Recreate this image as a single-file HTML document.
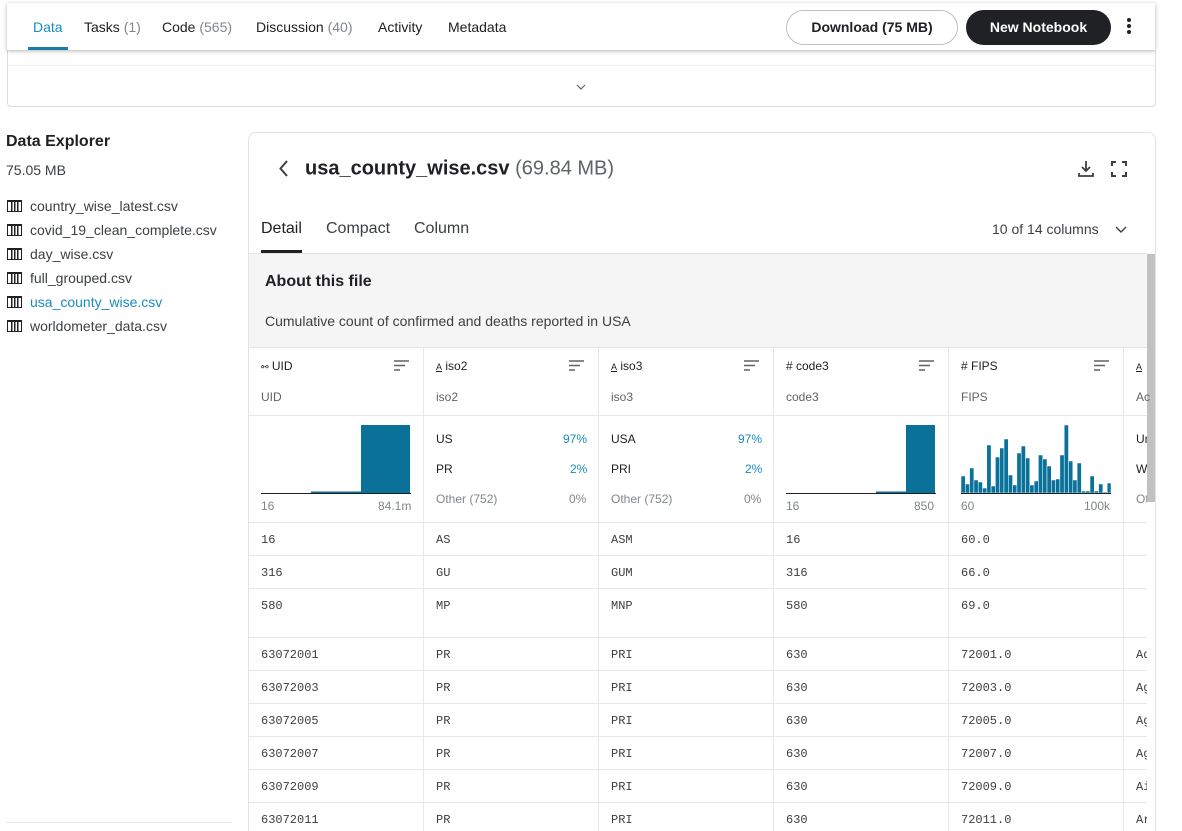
<!DOCTYPE html>
<html style="width:1182px;height:831px;overflow:hidden"><head><meta charset="utf-8"><style>
*{margin:0;padding:0;box-sizing:border-box}
body{width:1182px;height:831px;overflow:hidden;background:#fff;font-family:"Liberation Sans",sans-serif;color:#202124;position:relative}
.a{position:absolute;white-space:nowrap}
.c{transform:translateY(-50%)}
.g{color:#80868b}
.m{font-family:"Liberation Mono",monospace;font-size:12px;color:#3c4043}
.hl{position:absolute;height:1px;background:#e8e8e8}
.vl{position:absolute;width:1px;background:#e8e8e8}
.b{color:#1a8bbd}
.ic{display:inline-block;width:15px;height:12px;border:1.5px solid #202124;border-top-width:2px;vertical-align:-1px;margin-right:8px;background:linear-gradient(90deg,transparent 3px,#202124 3px,#202124 4.5px,transparent 4.5px,transparent 6px,#202124 6px,#202124 7.5px,transparent 7.5px,transparent 9px,#202124 9px,#202124 10.5px,transparent 10.5px)}
</style></head><body>
<!-- top bar -->
<div class="a" style="left:7px;top:3px;width:1148px;height:47px;background:#fff;box-shadow:0 1px 4px rgba(0,0,0,.3);z-index:2"></div>
<div class="a" style="left:7px;top:50px;width:1149px;height:57px;border:1px solid #dadce0;border-top:none;border-radius:0 0 4px 4px"></div>
<div class="hl" style="left:8px;top:65px;width:1147px;background:#eee"></div>
<svg class="a" style="left:576px;top:84px" width="10" height="6"><path d="M1 1l4 4 4-4" fill="none" stroke="#5f6368" stroke-width="1.2"/></svg>
<div style="position:absolute;z-index:3;left:0;top:0">
<div class="a c b" style="left:33px;top:27px;font-size:14px">Data</div>
<div class="a" style="left:28px;top:47px;width:40px;height:3px;background:#1a7bab"></div>
<div class="a c" style="left:84px;top:27px;font-size:14px">Tasks <span class="g">(1)</span></div>
<div class="a c" style="left:162px;top:27px;font-size:14px">Code <span class="g">(565)</span></div>
<div class="a c" style="left:256px;top:27px;font-size:14px">Discussion <span class="g">(40)</span></div>
<div class="a c" style="left:378px;top:27px;font-size:14px">Activity</div>
<div class="a c" style="left:448px;top:27px;font-size:14px">Metadata</div>
<div class="a" style="left:786px;top:10px;width:172px;height:35px;border:1px solid #bdc1c6;border-radius:18px;font-size:14px;font-weight:bold;text-align:center;line-height:33px">Download (75 MB)</div>
<div class="a" style="left:966px;top:10px;width:145px;height:35px;background:#202124;color:#fff;border-radius:18px;font-size:14px;font-weight:bold;text-align:center;line-height:35px">New Notebook</div>
<div class="a" style="left:1127px;top:18px;width:4px;height:4px;border-radius:2px;background:#202124;box-shadow:0 6px 0 #202124,0 12px 0 #202124"></div>
</div>
<!-- sidebar -->
<div class="a c" style="left:6px;top:142px;font-size:16px;font-weight:bold">Data Explorer</div>
<div class="a c" style="left:6px;top:170px;font-size:14px;color:#3c4043">75.05 MB</div>
<div class="a" style="left:7px;top:194px;font-size:14px;line-height:24px;color:#3c4043">
<div><span class="ic"></span>country_wise_latest.csv</div>
<div><span class="ic"></span>covid_19_clean_complete.csv</div>
<div><span class="ic"></span>day_wise.csv</div>
<div><span class="ic"></span>full_grouped.csv</div>
<div><span class="ic"></span><span class="b">usa_county_wise.csv</span></div>
<div><span class="ic"></span>worldometer_data.csv</div>
</div>
<div class="hl" style="left:6px;top:822px;width:226px"></div>
<!-- card -->
<div class="a" style="left:248px;top:132px;width:908px;height:699px;border:1px solid #e3e3e3;border-bottom:none;border-radius:8px 8px 0 0"></div>
<svg class="a" style="left:279px;top:160px" width="10" height="17"><path d="M8 1L1.5 8.5 8 16" fill="none" stroke="#3c4043" stroke-width="2"/></svg>
<div class="a c" style="left:305px;top:169px;font-size:20px"><b>usa_county_wise.csv</b> <span style="color:#5f6368">(69.84 MB)</span></div>
<svg class="a" style="left:1077px;top:160px" width="20" height="18"><path d="M9 1v10M5 7l4 4 4-4M2 13v3h14v-3" fill="none" stroke="#3c4043" stroke-width="1.8"/></svg>
<svg class="a" style="left:1111px;top:161px" width="16" height="16"><path d="M1 5V1h4M11 1h4v4M15 11v4h-4M5 15H1v-4" fill="none" stroke="#3c4043" stroke-width="2"/></svg>
<div class="a c" style="left:261px;top:229px;font-size:16px">Detail</div>
<div class="a c" style="left:326px;top:229px;font-size:16px;color:#3c4043">Compact</div>
<div class="a c" style="left:414px;top:229px;font-size:16px;color:#3c4043">Column</div>
<div class="a c" style="left:992px;top:229px;font-size:14px;color:#3c4043">10 of 14 columns</div>
<svg class="a" style="left:1115px;top:226px" width="12" height="7"><path d="M1 1l5 5 5-5" fill="none" stroke="#3c4043" stroke-width="1.4"/></svg>
<div class="a" style="left:261px;top:250px;width:41px;height:3px;background:#202124"></div>
<!-- about -->
<div class="a" style="left:249px;top:253px;width:898px;height:95px;background:#f5f5f5;border-top:1px solid #e3e3e3;border-bottom:1px solid #e3e3e3"></div>
<div class="a" style="left:1147px;top:254px;width:8px;height:248px;background:#c1c1c1"></div>
<div class="a c" style="left:265px;top:282px;font-size:16px;font-weight:bold">About this file</div>
<div class="a c" style="left:265px;top:321px;font-size:14px;color:#3c4043">Cumulative count of confirmed and deaths reported in USA</div>
<!-- table grid -->
<div class="vl" style="left:423px;top:348px;height:483px"></div>
<div class="vl" style="left:598px;top:348px;height:483px"></div>
<div class="vl" style="left:773px;top:348px;height:483px"></div>
<div class="vl" style="left:948px;top:348px;height:483px"></div>
<div class="vl" style="left:1123px;top:348px;height:483px"></div>
<div class="hl" style="left:249px;top:415px;width:898px"></div>
<div class="hl" style="left:249px;top:522px;width:898px"></div>
<div class="hl" style="left:249px;top:555px;width:898px"></div>
<div class="hl" style="left:249px;top:588px;width:898px"></div>
<div class="hl" style="left:249px;top:637px;width:898px"></div>
<div class="hl" style="left:249px;top:670px;width:898px"></div>
<div class="hl" style="left:249px;top:703px;width:898px"></div>
<div class="hl" style="left:249px;top:736px;width:898px"></div>
<div class="hl" style="left:249px;top:769px;width:898px"></div>
<div class="hl" style="left:249px;top:802px;width:898px"></div>
<!-- headers -->
<div class="a c" style="left:261px;top:366px;font-size:12px"><span style="font-size:9px">⚯</span> UID</div>
<div class="a c" style="left:436px;top:366px;font-size:12px"><u style="font-size:9px">A</u> iso2</div>
<div class="a c" style="left:611px;top:366px;font-size:12px"><u style="font-size:9px">A</u> iso3</div>
<div class="a c" style="left:786px;top:366px;font-size:12px"># code3</div>
<div class="a c" style="left:961px;top:366px;font-size:12px"># FIPS</div>
<div class="a c" style="left:1136px;top:366px;font-size:12px"><u style="font-size:9px">A</u></div>
<svg class="a" style="left:394px;top:360px" width="16" height="12"><path d="M0 1h15M0 5.5h11M0 10h6" stroke="#5f6368" stroke-width="1.4"/></svg>
<svg class="a" style="left:569px;top:360px" width="16" height="12"><path d="M0 1h15M0 5.5h11M0 10h6" stroke="#5f6368" stroke-width="1.4"/></svg>
<svg class="a" style="left:744px;top:360px" width="16" height="12"><path d="M0 1h15M0 5.5h11M0 10h6" stroke="#5f6368" stroke-width="1.4"/></svg>
<svg class="a" style="left:919px;top:360px" width="16" height="12"><path d="M0 1h15M0 5.5h11M0 10h6" stroke="#5f6368" stroke-width="1.4"/></svg>
<svg class="a" style="left:1094px;top:360px" width="16" height="12"><path d="M0 1h15M0 5.5h11M0 10h6" stroke="#5f6368" stroke-width="1.4"/></svg>
<div class="a c" style="left:261px;top:397px;font-size:12px;color:#5f6368">UID</div>
<div class="a c" style="left:436px;top:397px;font-size:12px;color:#5f6368">iso2</div>
<div class="a c" style="left:611px;top:397px;font-size:12px;color:#5f6368">iso3</div>
<div class="a c" style="left:786px;top:397px;font-size:12px;color:#5f6368">code3</div>
<div class="a c" style="left:961px;top:397px;font-size:12px;color:#5f6368">FIPS</div>
<div class="a c" style="left:1136px;top:397px;font-size:12px;color:#5f6368">Ac</div>
<!-- histograms -->
<svg class="a" style="left:261px;top:424px" width="150" height="71"><rect x="100" y="1" width="49" height="68" fill="#0a7199"/><rect x="50" y="67.5" width="50" height="1.5" fill="#0a7199"/><line x1="0" y1="69.5" x2="150" y2="69.5" stroke="#202124"/></svg>
<div class="a c" style="left:261px;top:506px;font-size:12px;color:#80868b">16</div>
<div class="a c" style="left:378px;top:506px;font-size:12px;color:#80868b">84.1m</div>
<svg class="a" style="left:786px;top:424px" width="150" height="71"><rect x="120" y="1" width="29" height="68" fill="#0a7199"/><rect x="90" y="67.5" width="30" height="1.5" fill="#0a7199"/><line x1="0" y1="69.5" x2="150" y2="69.5" stroke="#202124"/></svg>
<div class="a c" style="left:786px;top:506px;font-size:12px;color:#80868b">16</div>
<div class="a c" style="left:914px;top:506px;font-size:12px;color:#80868b">850</div>
<svg class="a" style="left:961px;top:424px" width="150" height="71"><g fill="#0a7199" stroke="#fff" stroke-width=".5">
<rect x="0" y="52" width="4.3" height="17"/><rect x="4.3" y="60" width="4.3" height="9"/><rect x="8.6" y="44" width="4.3" height="25"/><rect x="12.9" y="56" width="4.3" height="13"/><rect x="17.2" y="58" width="4.3" height="11"/><rect x="21.5" y="64" width="4.3" height="5"/><rect x="25.8" y="21" width="4.3" height="48"/><rect x="30.1" y="62" width="4.3" height="7"/><rect x="34.4" y="33" width="4.3" height="36"/><rect x="38.7" y="24" width="4.3" height="45"/><rect x="43" y="15" width="4.3" height="54"/><rect x="47.3" y="51" width="4.3" height="18"/><rect x="51.6" y="61" width="4.3" height="8"/><rect x="55.9" y="29" width="4.3" height="40"/><rect x="60.2" y="22" width="4.3" height="47"/><rect x="64.5" y="34" width="4.3" height="35"/><rect x="68.8" y="61" width="4.3" height="8"/><rect x="73.1" y="57" width="4.3" height="12"/><rect x="77.4" y="31" width="4.3" height="38"/><rect x="81.7" y="35" width="4.3" height="34"/><rect x="86" y="42" width="4.3" height="27"/><rect x="90.3" y="56" width="4.3" height="13"/><rect x="94.6" y="55" width="4.3" height="14"/><rect x="98.9" y="31" width="4.3" height="38"/><rect x="103.2" y="1" width="4.3" height="68"/><rect x="107.5" y="37" width="4.3" height="32"/><rect x="111.8" y="56" width="4.3" height="13"/><rect x="116.1" y="39" width="4.3" height="30"/><rect x="120.4" y="67" width="4.3" height="2"/><rect x="124.7" y="67" width="4.3" height="2"/><rect x="129" y="52" width="4.3" height="17"/><rect x="133.3" y="67" width="4.3" height="2"/><rect x="137.6" y="60" width="4.3" height="9"/><rect x="141.9" y="68" width="4.3" height="1"/><rect x="146.2" y="59" width="3.8" height="10"/></g><line x1="0" y1="69.5" x2="150" y2="69.5" stroke="#202124"/></svg>
<div class="a c" style="left:961px;top:506px;font-size:12px;color:#80868b">60</div>
<div class="a c" style="left:1084px;top:506px;font-size:12px;color:#80868b">100k</div>
<!-- categorical -->
<div class="a c" style="left:436px;top:439px;font-size:12px">US</div><div class="a c b" style="left:563px;top:439px;font-size:12px">97%</div>
<div class="a c" style="left:436px;top:469px;font-size:12px">PR</div><div class="a c b" style="left:570px;top:469px;font-size:12px">2%</div>
<div class="a c g" style="left:436px;top:499px;font-size:12px">Other (752)</div><div class="a c g" style="left:569px;top:499px;font-size:12px">0%</div>
<div class="a c" style="left:611px;top:439px;font-size:12px">USA</div><div class="a c b" style="left:738px;top:439px;font-size:12px">97%</div>
<div class="a c" style="left:611px;top:469px;font-size:12px">PRI</div><div class="a c b" style="left:745px;top:469px;font-size:12px">2%</div>
<div class="a c g" style="left:611px;top:499px;font-size:12px">Other (752)</div><div class="a c g" style="left:744px;top:499px;font-size:12px">0%</div>
<div style="position:absolute;left:1124px;top:420px;width:23px;height:100px;overflow:hidden">
<div class="a c" style="left:12px;top:19px;font-size:12px">Un</div>
<div class="a c" style="left:12px;top:49px;font-size:12px">W</div>
<div class="a c g" style="left:12px;top:79px;font-size:12px">Ot</div></div>
<!-- rows -->
<div style="position:absolute;left:0;top:0;width:1182px;height:831px;overflow:hidden">
<div class="a c m" style="left:261px;top:540px">16</div><div class="a c m" style="left:436px;top:540px">AS</div><div class="a c m" style="left:611px;top:540px">ASM</div><div class="a c m" style="left:786px;top:540px">16</div><div class="a c m" style="left:961px;top:540px">60.0</div>
<div class="a c m" style="left:261px;top:573px">316</div><div class="a c m" style="left:436px;top:573px">GU</div><div class="a c m" style="left:611px;top:573px">GUM</div><div class="a c m" style="left:786px;top:573px">316</div><div class="a c m" style="left:961px;top:573px">66.0</div>
<div class="a c m" style="left:261px;top:606px">580</div><div class="a c m" style="left:436px;top:606px">MP</div><div class="a c m" style="left:611px;top:606px">MNP</div><div class="a c m" style="left:786px;top:606px">580</div><div class="a c m" style="left:961px;top:606px">69.0</div>
<div class="a c m" style="left:261px;top:655px">63072001</div><div class="a c m" style="left:436px;top:655px">PR</div><div class="a c m" style="left:611px;top:655px">PRI</div><div class="a c m" style="left:786px;top:655px">630</div><div class="a c m" style="left:961px;top:655px">72001.0</div>
<div class="a c m" style="left:261px;top:688px">63072003</div><div class="a c m" style="left:436px;top:688px">PR</div><div class="a c m" style="left:611px;top:688px">PRI</div><div class="a c m" style="left:786px;top:688px">630</div><div class="a c m" style="left:961px;top:688px">72003.0</div>
<div class="a c m" style="left:261px;top:721px">63072005</div><div class="a c m" style="left:436px;top:721px">PR</div><div class="a c m" style="left:611px;top:721px">PRI</div><div class="a c m" style="left:786px;top:721px">630</div><div class="a c m" style="left:961px;top:721px">72005.0</div>
<div class="a c m" style="left:261px;top:754px">63072007</div><div class="a c m" style="left:436px;top:754px">PR</div><div class="a c m" style="left:611px;top:754px">PRI</div><div class="a c m" style="left:786px;top:754px">630</div><div class="a c m" style="left:961px;top:754px">72007.0</div>
<div class="a c m" style="left:261px;top:787px">63072009</div><div class="a c m" style="left:436px;top:787px">PR</div><div class="a c m" style="left:611px;top:787px">PRI</div><div class="a c m" style="left:786px;top:787px">630</div><div class="a c m" style="left:961px;top:787px">72009.0</div>
<div class="a c m" style="left:261px;top:820px">63072011</div><div class="a c m" style="left:436px;top:820px">PR</div><div class="a c m" style="left:611px;top:820px">PRI</div><div class="a c m" style="left:786px;top:820px">630</div><div class="a c m" style="left:961px;top:820px">72011.0</div>
</div>
<div style="position:absolute;left:1124px;top:640px;width:23px;height:191px;overflow:hidden">
<div class="a c m" style="left:12px;top:15px">Ad</div><div class="a c m" style="left:12px;top:48px">Ag</div><div class="a c m" style="left:12px;top:81px">Ag</div><div class="a c m" style="left:12px;top:114px">Ag</div><div class="a c m" style="left:12px;top:147px">Ai</div><div class="a c m" style="left:12px;top:180px">Ar</div>
</div>
</body></html>
